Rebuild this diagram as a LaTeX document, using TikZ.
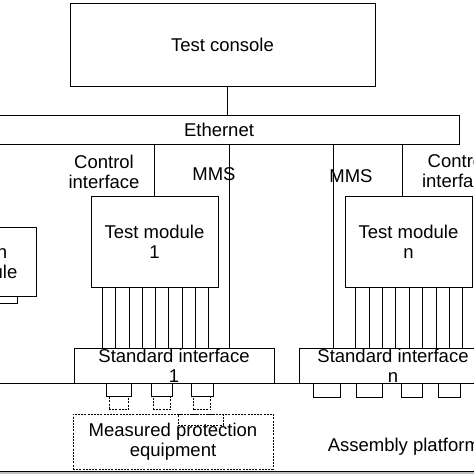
\documentclass[tikz,border=0pt]{standalone}
\usepackage{fontspec}
\setmainfont{Liberation Sans}
\usetikzlibrary{positioning}

\begin{document}
\begin{tikzpicture}[x=1pt, y=-1pt, line width=0.9pt, node distance=0pt,
        every node/.style={font=\fontsize{18.5}{20}\selectfont, align=center},
        box/.style={draw, fill=white, inner sep=0pt},
        tab/.style={draw, fill=white, inner sep=0pt, minimum height=13},
        plug/.style={draw, dash pattern=on 2pt off 1.2pt, inner sep=0pt, minimum height=13}]
        \useasboundingbox (0,0) rectangle (474,474);
        \clip (0,0) rectangle (474,474);

        \node[draw, inner sep=0pt, minimum width=510, minimum height=88] (platform) at (237,427) {};
        \fill[gray!50] (platform.south west) rectangle ++(510,12);
        \draw (platform.south west) -- (platform.south east);
        \node[anchor=west] (asmlbl) at (324,447) {Assembly platform};

        \node[box, minimum width=305, minimum height=83] (console) at (222.5,44.5) {Test console};
        \node[box, minimum width=480, minimum height=29] (ethernet) at (219,129.5) {Ethernet};
        \coordinate (up) at (227,100);
        \draw (console.south -| up) -- (ethernet.north -| up);

        \node[box, minimum width=98, minimum height=69] (modL) at (-13,261.5) {Main\\module};
        \node[tab, minimum width=25, minimum height=7] (tabL) at (4.5,299.5) {};

        \node[box, minimum width=127, minimum height=91] (mod1) at (154.5,241.5) {Test module\\1};
        \node[box, minimum width=127, minimum height=91] (modn) at (408.5,241.5) {Test module\\n};

        \node[box, minimum width=200, minimum height=35] (std1) at (174,365.5) {};
        \node (std1lbl) at (std1) {Standard interface\\1};
        \node[box, minimum width=188, minimum height=35] (stdn) at (393,365.5) {};
        \node (stdnlbl) at (stdn) {Standard interface\\n};

        \coordinate (mms1) at (229,0);
        \coordinate (mmsN) at (333,0);
        \coordinate (ctrlN) at (402,0);
        \draw (ethernet.south -| mod1.north) -- (mod1.north);
        \draw (ethernet.south -| mms1) -- (std1.north -| mms1);
        \draw (ethernet.south -| mmsN) -- (stdn.north -| mmsN);
        \draw (ethernet.south -| ctrlN) -- (modn.north -| ctrlN);

        \node (ctrl1lbl) at (104,172) {Control\\interface};
        \node (mms1lbl) at (214,174) {MMS};
        \node (mmsNlbl) at (351,176) {MMS};
        \node (ctrlNlbl) at (457.5,171) {Control\\interface};

        \foreach \i in {0,...,8} {
            \draw ([xshift={12+13.25*\i}]mod1.south west) -- ([xshift={12+13.25*\i}]mod1.south west |- std1.north);
            \draw ([xshift={11+13.4*\i}]modn.south west) -- ([xshift={11+13.4*\i}]modn.south west |- stdn.north);
        }

        \node[tab, minimum width=25] (t1) at (118.5,389.5) {};
        \node[tab, minimum width=21] (t2) at (161.5,389.5) {};
        \node[tab, minimum width=22] (t3) at (202,389.5) {};
        \node[plug, minimum width=19, below=of t1] (p1) {};
        \node[plug, minimum width=17, below=of t2] (p2) {};
        \node[plug, minimum width=17, below=of t3] (p3) {};

        \node[tab, minimum width=27, minimum height=14] (u1) at (326.5,390) {};
        \node[tab, minimum width=26, minimum height=14] (u2) at (369,390) {};
        \node[tab, minimum width=21, minimum height=14] (u3) at (411.5,390) {};
        \node[tab, minimum width=22, minimum height=14] (u4) at (449,390) {};

        \node[plug, minimum width=200, minimum height=55] (equip) at (173,441.5) {};
        \node[plug, minimum width=45, minimum height=11] (slot) at (200.5,419.5) {};
        \node (equiplbl) at (equip) {Measured protection\\equipment};
    \end{tikzpicture}
\end{document}
